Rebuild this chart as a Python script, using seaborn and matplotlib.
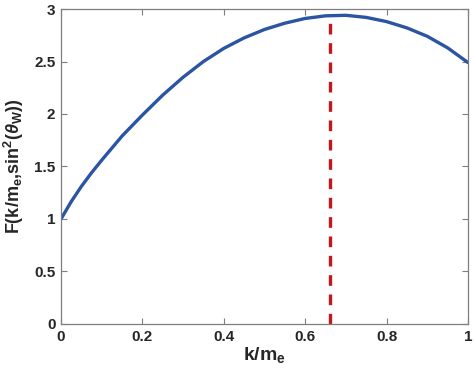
import matplotlib
matplotlib.use("Agg")
import matplotlib.pyplot as plt
import pandas as pd
import seaborn as sns

# values
k_me = [0.0, 0.025, 0.05, 0.075, 0.1, 0.125, 0.15, 0.2, 0.25, 0.3, 0.35, 0.4, 0.45, 0.5,
        0.55, 0.6, 0.65, 0.7, 0.75, 0.8, 0.85, 0.9, 0.95, 1.0]
F_val = [1.00, 1.165, 1.31, 1.44, 1.56, 1.675, 1.79, 1.99, 2.18, 2.35, 2.50, 2.625, 2.725, 2.805,
         2.865, 2.91, 2.935, 2.94, 2.92, 2.88, 2.82, 2.74, 2.63, 2.49]
peak_x = 0.661
peak_y = 2.94

x_ticks = [0, 0.2, 0.4, 0.6, 0.8, 1]
x_ticklabels = ["0", "0.2", "0.4", "0.6", "0.8", "1"]
y_ticks = [0, 0.5, 1, 1.5, 2, 2.5, 3]
y_ticklabels = ["0", "0.5", "1", "1.5", "2", "2.5", "3"]

sns.set_style("white")
plt.rcParams['font.family'] = ['Liberation Sans', 'DejaVu Sans']
plt.rcParams['font.weight'] = 'bold'
plt.rcParams['mathtext.fontset'] = 'custom'
plt.rcParams['mathtext.rm'] = 'Liberation Sans:bold'
plt.rcParams['mathtext.bf'] = 'Liberation Sans:bold'
plt.rcParams['mathtext.it'] = 'Liberation Sans:bold:italic'

df = pd.DataFrame({"k": k_me, "F": F_val})

fig = plt.figure(figsize=(4.74, 3.69), dpi=100)
ax = fig.add_axes([0.1287, 0.122, 0.8586, 0.8536])

sns.lineplot(data=df, x="k", y="F", ax=ax, color="#2b54a3", linewidth=2.4)
ax.vlines(peak_x, 0, peak_y, colors="#c4161c", linestyles=(0, (3.2, 2.6)), linewidth=2.4)

ax.set_xlim(0, 1)
ax.set_ylim(0, 3)
ax.set_xticks(x_ticks)
ax.set_xticklabels(x_ticklabels, fontsize=11, fontweight='bold')
ax.set_yticks(y_ticks)
ax.set_yticklabels(y_ticklabels, fontsize=11, fontweight='bold')
ax.tick_params(direction='in', length=4, width=0.8, color='#7f7f7f',
               top=True, right=True, bottom=True, left=True, pad=4)
for s in ax.spines.values():
    s.set_color('#7f7f7f')
    s.set_linewidth(0.9)

ax.set_xlabel(r"k/m$_\mathrm{e}$", fontsize=14, fontweight='bold', labelpad=1)
ax.set_ylabel(r"F(k/m$_\mathrm{e}$,sin$^\mathrm{2}$($\theta_\mathrm{W}$))", fontsize=13,
              fontweight='bold', labelpad=6)

plt.savefig("out.png", dpi=100)
